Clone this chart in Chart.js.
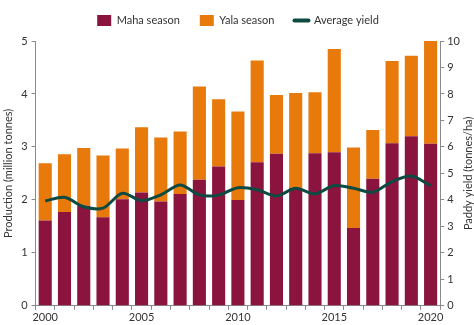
<!DOCTYPE html>
<html>
<head>
<meta charset="utf-8">
<script src="https://cdn.jsdelivr.net/npm/chart.js@4/dist/chart.umd.min.js"></script>
<style>
html,body{margin:0;padding:0;background:#fff;}
#wrap{width:474px;height:325px;position:relative;}
</style>
</head>
<body>
<div id="wrap"><canvas id="c" width="474" height="325"></canvas></div>
<script>
const years = ['2000','2001','2002','2003','2004','2005','2006','2007','2008','2009','2010','2011','2012','2013','2014','2015','2016','2017','2018','2019','2020'];
const mahaSeason = [1.61,1.77,1.89,1.67,2.01,2.14,1.97,2.11,2.38,2.63,2.00,2.71,2.87,2.23,2.88,2.90,1.47,2.40,3.07,3.20,3.06];
const yalaSeason = [1.08,1.09,1.09,1.17,0.96,1.23,1.21,1.18,1.76,1.27,1.67,1.92,1.11,1.79,1.15,1.95,1.52,0.92,1.55,1.52,1.94];
const averageYield = [3.96,4.10,3.74,3.69,4.25,3.97,4.19,4.56,4.19,4.18,4.46,4.38,4.15,4.44,4.23,4.54,4.44,4.29,4.69,4.90,4.53];
const leftTicks = [0,1,2,3,4,5];
const rightTicks = [0,1,2,3,4,5,6,7,8,9,10];

const MAROON = '#8a143d';
const ORANGE = '#e87a0b';
const TEAL = '#0d4a42';
const AXIS = '#8a8a8a';
const TXT = '#333333';
const FONT = 'Lato, "Noto Sans", sans-serif';

const legendGap = {
  id: 'legendGap',
  beforeInit(chart) {
    const orig = chart.legend.fit;
    chart.legend.fit = function () { orig.call(this); this.height += 5; };
  }
};

const rightTitle = {
  id: 'rightTitle',
  afterDraw(chart) {
    const s = chart.scales.yR;
    const ctx = chart.ctx;
    ctx.save();
    ctx.font = '11px ' + FONT;
    ctx.fillStyle = TXT;
    ctx.textAlign = 'center';
    ctx.textBaseline = 'middle';
    const x = s.right - 6;
    const y = (s.top + s.bottom) / 2;
    ctx.translate(x, y);
    ctx.rotate(-Math.PI / 2);
    ctx.fillText('Paddy yield (tonnes/ha)', 0, 0);
    ctx.restore();
  }
};

new Chart(document.getElementById('c'), {
  data: {
    labels: years,
    datasets: [
      { type: 'line', label: 'Average yield', data: averageYield, yAxisID: 'yR',
        borderColor: TEAL, backgroundColor: TEAL, borderWidth: 3, pointRadius: 0,
        tension: 0.3, order: 0 },
      { type: 'bar', label: 'Maha season', data: mahaSeason, yAxisID: 'y',
        backgroundColor: MAROON, barPercentage: 0.68, categoryPercentage: 1, order: 1, stack: 's' },
      { type: 'bar', label: 'Yala season', data: yalaSeason, yAxisID: 'y',
        backgroundColor: ORANGE, barPercentage: 0.68, categoryPercentage: 1, order: 1, stack: 's' }
    ]
  },
  options: {
    responsive: false,
    animation: false,
    layout: { padding: { left: 2, right: 0, top: -5, bottom: 0 } },
    plugins: {
      tooltip: { enabled: false },
      legend: {
        position: 'top',
        labels: {
          font: { size: 11, family: FONT },
          color: TXT,
          usePointStyle: true,
          pointStyleWidth: 14,
          boxHeight: 11,
          padding: 20,
          generateLabels(chart) {
            const order = [1, 2, 0];
            return order.map(i => {
              const ds = chart.data.datasets[i];
              const isLine = ds.type === 'line';
              return {
                text: ds.label,
                fillStyle: ds.backgroundColor,
                strokeStyle: isLine ? TEAL : ds.backgroundColor,
                lineWidth: isLine ? 4 : 0,
                lineCap: 'round',
                pointStyle: isLine ? 'line' : 'rect',
                datasetIndex: i,
                hidden: false,
                fontColor: TXT
              };
            });
          }
        }
      }
    },
    scales: {
      x: {
        stacked: true,
        offset: true,
        grid: { display: true, drawOnChartArea: false, drawTicks: true, tickLength: 4, offset: true, color: AXIS },
        border: { display: true, color: AXIS },
        ticks: {
          autoSkip: false, maxRotation: 0, color: TXT, font: { size: 11, family: FONT }, padding: 1,
          callback(v, i) { const y = years[i]; return (+y) % 5 === 0 ? y : ''; }
        }
      },
      y: {
        type: 'linear', position: 'left', stacked: true, min: 0, max: 5,
        afterBuildTicks(s) { s.ticks = leftTicks.map(v => ({ value: v })); },
        grid: { display: true, drawOnChartArea: false, drawTicks: true, tickLength: 4, color: AXIS },
        border: { display: true, color: AXIS },
        ticks: { color: TXT, font: { size: 11, family: FONT }, padding: 4 },
        title: { display: true, text: 'Production (million tonnes)', color: TXT, font: { size: 11, family: FONT }, padding: { top: 0, bottom: 2 } }
      },
      yR: {
        type: 'linear', position: 'right', min: 0, max: 10,
        afterBuildTicks(s) { s.ticks = rightTicks.map(v => ({ value: v })); },
        grid: { display: true, drawOnChartArea: false, drawTicks: true, tickLength: 4, color: AXIS },
        border: { display: true, color: AXIS },
        ticks: { color: TXT, font: { size: 11, family: FONT }, padding: 3 },
        title: { display: true, text: ' ', color: TXT, font: { size: 11, family: FONT, lineHeight: 1 }, padding: 0 }
      }
    }
  },
  plugins: [legendGap, rightTitle]
});
</script>
</body>
</html>
